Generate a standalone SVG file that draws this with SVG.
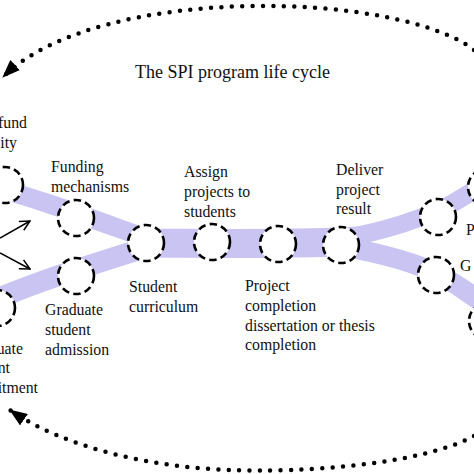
<svg xmlns="http://www.w3.org/2000/svg" width="474" height="474" viewBox="0 0 474 474">
  <defs>
    <marker id="solidHead" markerUnits="userSpaceOnUse" viewBox="0 0 18 14" refX="17" refY="7" markerWidth="18" markerHeight="14" orient="auto">
      <path d="M0,0 L18,7 L0,14 z" fill="#000"/>
    </marker>
    <marker id="openHead" markerUnits="userSpaceOnUse" viewBox="0 0 12 12" refX="11" refY="6" markerWidth="12" markerHeight="12" orient="auto">
      <path d="M1,1 L11,6 L1,11" fill="none" stroke="#000" stroke-width="1.5"/>
    </marker>
    <style>
      .band { fill: none; stroke: #c9c4f2; stroke-linecap: butt; }
      .node { fill: #fff; stroke: #000; stroke-width: 2.6; stroke-dasharray: 7.5 4.2; }
      .dots { fill: none; stroke: #000; stroke-width: 4.5; stroke-linecap: round; stroke-dasharray: 0 10.4; }
      .arrow { fill: none; stroke: #000; stroke-width: 1.5; }
      text { font-family: "Liberation Serif", "Times New Roman", serif; font-size: 15.8px; fill: #111; }
      .title { font-size: 18px; }
    </style>
  </defs>

  <g id="bands">
    <path class="band" stroke-width="19" d="M -10,187 C 30,195 100,222 160,243"/>
    <path class="band" stroke-width="21" d="M -10,302 C 40,280 100,262 160,243"/>
    <path class="band" stroke-width="29" d="M 130,243 C 200,243 300,245 360,241"/>
    <path class="band" stroke-width="20" d="M 345,247 C 390,255 420,265 440,275 C 455,283 465,291 482,302"/>
    <path class="band" stroke-width="18" d="M 345,238 C 390,230 420,218 440,210 C 455,203 465,195 482,186"/>
  </g>

  <g id="connectors">
    <path class="dots" d="M 474,50 C 400,-8 100,-18 3,77" marker-end="url(#solidHead)"/>
    <path class="dots" d="M 474,436 C 420,465 300,473 230,470 C 150,467 65,448 10,410" marker-end="url(#solidHead)"/>
    <line class="arrow" x1="0" y1="238" x2="30" y2="221" marker-end="url(#openHead)"/>
    <line class="arrow" x1="0" y1="253" x2="30" y2="269" marker-end="url(#openHead)"/>
  </g>

  <g id="title"><text class="title" x="135" y="78">The SPI program life cycle</text></g>

  <g id="node-fund">
    <circle class="node" cx="5" cy="185" r="18"/>
    <text x="27" y="128" text-anchor="end">fund</text>
    <text x="17" y="148" text-anchor="end">ity</text>
  </g>
  <g id="node-recruitment">
    <circle class="node" cx="-3" cy="308" r="18"/>
    <text x="23" y="354" text-anchor="end">uate</text>
    <text x="10" y="373" text-anchor="end">nt</text>
    <text x="38" y="393" text-anchor="end">itment</text>
  </g>
  <g id="node-funding-mechanisms">
    <circle class="node" cx="76" cy="218" r="18"/>
    <text x="51" y="172">Funding</text>
    <text x="51" y="192">mechanisms</text>
  </g>
  <g id="node-graduate-admission">
    <circle class="node" cx="76" cy="276" r="18"/>
    <text x="45" y="315">Graduate</text>
    <text x="45" y="335">student</text>
    <text x="45" y="355">admission</text>
  </g>
  <g id="node-student-curriculum">
    <circle class="node" cx="146" cy="243" r="18"/>
    <text x="129" y="292">Student</text>
    <text x="129" y="312">curriculum</text>
  </g>
  <g id="node-assign">
    <circle class="node" cx="212" cy="242" r="18"/>
    <text x="184" y="177">Assign</text>
    <text x="184" y="197">projects to</text>
    <text x="184" y="217">students</text>
  </g>
  <g id="node-project-completion">
    <circle class="node" cx="278" cy="244" r="18"/>
    <text x="245" y="291">Project</text>
    <text x="245" y="311">completion</text>
    <text x="245" y="331">dissertation or thesis</text>
    <text x="245" y="350">completion</text>
  </g>
  <g id="node-deliver">
    <circle class="node" cx="341" cy="245" r="18"/>
    <text x="336" y="175">Deliver</text>
    <text x="336" y="195">project</text>
    <text x="336" y="214">result</text>
  </g>
  <g id="node-p">
    <circle class="node" cx="438" cy="217" r="18"/>
    <text x="466" y="235">P</text>
  </g>
  <g id="node-g">
    <circle class="node" cx="436" cy="275" r="18"/>
    <text x="460" y="271">G</text>
  </g>
  <g id="node-top-right">
    <circle class="node" cx="486" cy="187" r="18"/>
  </g>
  <g id="node-bottom-right">
    <circle class="node" cx="487" cy="321" r="18"/>
  </g>
</svg>
